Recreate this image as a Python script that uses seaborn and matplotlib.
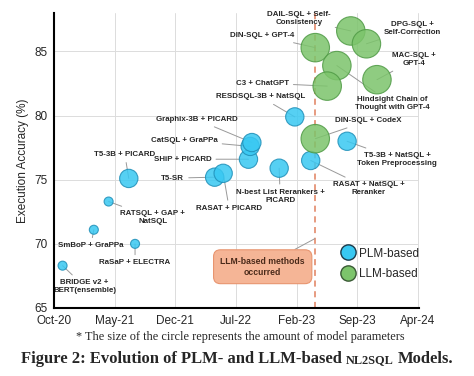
import matplotlib
matplotlib.use('Agg')
import pandas as pd
import matplotlib.pyplot as plt
import matplotlib.dates as mdates
from matplotlib.colors import LogNorm
from matplotlib.lines import Line2D
import seaborn as sns

# PLM-based models
plm_models = ['BRIDGE v2 +\nBERT(ensemble)', 'SmBoP + GraPPa', 'RATSQL + GAP +\nNatSQL', 'RaSaP + ELECTRA',
              'T5-3B + PICARD', 'T5-SR', 'RASAT + PICARD', 'SHiP + PICARD', 'CatSQL + GraPPa',
              'Graphix-3B + PICARD', 'N-best List Rerankers +\nPICARD', 'RESDSQL-3B + NatSQL',
              'RASAT + NatSQL +\nReranker', 'T5-3B + NatSQL +\nToken Preprocessing']
plm_dates = ['2020-10-30', '2021-02-17', '2021-04-10', '2021-07-12', '2021-06-20', '2022-04-18', '2022-05-18',
             '2022-08-15', '2022-08-21', '2022-08-27', '2022-12-01', '2023-01-25', '2023-03-22', '2023-07-28']
plm_acc = [68.3, 71.1, 73.3, 70.0, 75.1, 75.2, 75.5, 76.6, 77.6, 77.9, 75.9, 79.9, 76.5, 78.0]
plm_params = [0.34, 0.34, 0.34, 0.34, 3, 3, 3, 3, 3, 3, 3, 3, 3, 3]  # billions

# LLM-based models
llm_models = ['DIN-SQL + GPT-4', 'DAIL-SQL + Self-\nConsistency', 'DPG-SQL +\nSelf-Correction',
              'Hindsight Chain of\nThought with GPT-4', 'C3 + ChatGPT', 'MAC-SQL +\nGPT-4', 'DIN-SQL + CodeX']
llm_dates = ['2023-04-07', '2023-08-10', '2023-10-04', '2023-06-22', '2023-05-19', '2023-11-10', '2023-04-07']
llm_acc = [85.3, 86.6, 85.6, 83.9, 82.3, 82.8, 78.2]
llm_params = [175, 175, 175, 175, 175, 175, 175]

llm_start = '2023-04-05'
x_ticks = ['2020-10-01', '2021-05-01', '2021-12-01', '2022-07-01', '2023-02-01', '2023-09-01', '2024-04-01']
y_ticks = [65, 70, 75, 80, 85]

# label offsets (pixels from the circle centre)
plm_offsets = [(22, -21), (-3, -16), (44, -16), (0, -19), (-4, 24), (-42, -1), (6, -35),
               (-66, 0), (-66, 6), (-55, 23), (1, -28), (-34, 20), (58, -28), (50, -18)]
llm_offsets = [(-53, 12), (-52, 12), (46, 15), (55, -38), (-65, 3), (37, 20), (53, 18)]

plm = pd.DataFrame({'model': plm_models, 'date': pd.to_datetime(plm_dates), 'acc': plm_acc, 'params': plm_params})
llm = pd.DataFrame({'model': llm_models, 'date': pd.to_datetime(llm_dates), 'acc': llm_acc, 'params': llm_params})

sns.set_style('whitegrid')
plt.rcParams['font.family'] = ['Liberation Sans', 'DejaVu Sans']

fig = plt.figure(figsize=(4.74, 3.76), dpi=100)
ax = fig.add_axes([0.1146, 0.1809, 0.7694, 0.7845])

size_norm = LogNorm(0.34, 175)
blue, blue_edge = '#38c8f2', '#1f8fb8'
green, green_edge = '#7cc46b', '#4f9a45'
sns.scatterplot(data=plm, x='date', y='acc', size='params', sizes=(42, 420), size_norm=size_norm,
                color=blue, edgecolor=blue_edge, linewidth=0.8, alpha=0.85, legend=False, zorder=3, ax=ax)
sns.scatterplot(data=llm, x='date', y='acc', size='params', sizes=(42, 420), size_norm=size_norm,
                color=green, edgecolor=green_edge, linewidth=0.8, alpha=0.85, legend=False, zorder=3, ax=ax)

# labels with leader lines
for df, offs in [(plm, plm_offsets), (llm, llm_offsets)]:
    for (_, row), off in zip(df.iterrows(), offs):
        ax.annotate(row['model'], xy=(row['date'], row['acc']), xytext=off, textcoords='offset pixels',
                    ha='center', va='center', ma='center', fontsize=5.7, fontweight='bold',
                    color='#262626', zorder=2, linespacing=1.2,
                    arrowprops=dict(arrowstyle='-', color='#999999', lw=0.7, shrinkA=1, shrinkB=0))

# LLM start line and note
ax.axvline(pd.to_datetime(llm_start), color='#e0805e', ls=(0, (4, 3)), lw=1.1, zorder=1)
ax.annotate('LLM-based methods\noccurred', xy=(pd.to_datetime(llm_start), 70.4), xytext=(-52, -28),
            textcoords='offset pixels', ha='center', va='center', ma='center', fontsize=6.2,
            fontweight='bold', color='#4a2a1a', linespacing=1.3,
            bbox=dict(boxstyle='round,pad=0.8', fc='#f5b596', ec='#e89570', lw=0.8),
            arrowprops=dict(arrowstyle='-', color='#999999', lw=0.7, shrinkA=0, shrinkB=0))

ax.set_xlim(pd.to_datetime('2020-10-01'), pd.to_datetime('2024-04-06'))
ax.set_ylim(65, 88)
ax.set_xticks(pd.to_datetime(x_ticks))
ax.xaxis.set_major_formatter(mdates.DateFormatter('%b-%y'))
ax.set_yticks(y_ticks)
ax.tick_params(axis='both', labelsize=8.5, length=3, width=1.2, color='black', pad=2)
ax.set_xlabel('')
ax.set_ylabel('Execution Accuracy (%)', fontsize=8.5, labelpad=4)
ax.grid(True, color='#dcdcdc', lw=0.7)
for s in ['top', 'right']:
    ax.spines[s].set_visible(False)
for s in ['left', 'bottom']:
    ax.spines[s].set_color('black')
    ax.spines[s].set_linewidth(1.5)

handles = [Line2D([], [], marker='o', ls='', ms=11, mfc=blue, mec='#1a3a4a', mew=1.0),
           Line2D([], [], marker='o', ls='', ms=11, mfc=green, mec='#3a5a35', mew=1.0)]
ax.legend(handles, ['PLM-based', 'LLM-based'], loc='center left', bbox_to_anchor=(0.78, 0.149),
          frameon=False, fontsize=8.5, handlelength=1.2, handletextpad=0.3, labelspacing=0.75,
          borderpad=0.2, borderaxespad=0)

# caption
fig.text(240, 376 - 337, '* The size of the circle represents the amount of model parameters',
         transform=None, ha='center', va='center', fontsize=8.8, family='Liberation Serif')

fig.canvas.draw()
r = fig.canvas.get_renderer()
parts = [('Figure 2: Evolution of PLM- and LLM-based', 12, 4), ('NL2SQL', 8.8, 4), ('Models.', 12, 0)]
texts = []
x = 0
for txt, fs, gap in parts:
    t = fig.text(x, 376 - 363, txt, transform=None, ha='left', va='baseline', fontsize=fs,
                 fontweight='bold', family='Liberation Serif')
    w = t.get_window_extent(r).width
    texts.append((t, x))
    x += w + gap
start = (474 - x) / 2
for t, x0 in texts:
    t.set_x(start + x0)

fig.savefig('out.png', dpi=100)
